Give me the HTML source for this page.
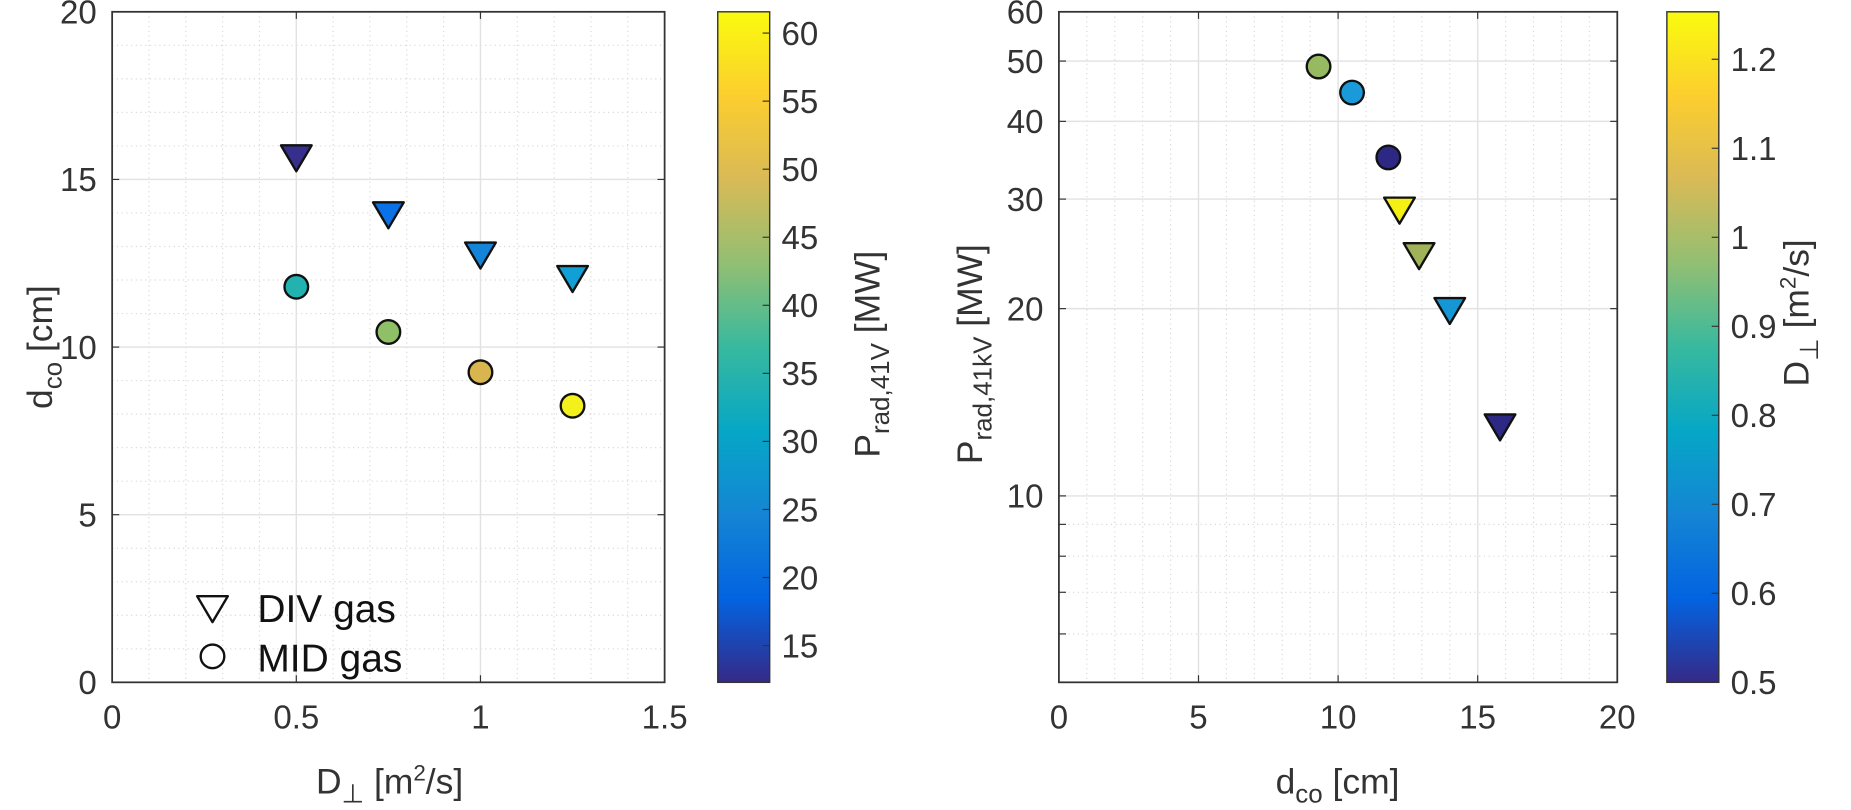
<!DOCTYPE html>
<html><head><meta charset="utf-8"><style>
html,body{margin:0;padding:0;background:#fff;}
svg{display:block;font-family:"Liberation Sans",Arial,sans-serif;}
</style></head><body>
<svg id="s" width="1851" height="810" viewBox="0 0 1851 810" xmlns="http://www.w3.org/2000/svg">
<defs>
<linearGradient id="par" x1="0" y1="1" x2="0" y2="0">
<stop offset="0" stop-color="#352a87"/><stop offset="0.125" stop-color="#0363e1"/>
<stop offset="0.25" stop-color="#1485d4"/><stop offset="0.375" stop-color="#06a7c6"/>
<stop offset="0.5" stop-color="#38b99e"/><stop offset="0.625" stop-color="#92bf73"/>
<stop offset="0.75" stop-color="#d9ba56"/><stop offset="0.875" stop-color="#fcce2e"/>
<stop offset="1" stop-color="#f9fb0e"/></linearGradient>
</defs>
<g transform="scale(1.1805)">
<g id="g"></g>
<text x="44" y="294" font-size="30" fill="#333" text-anchor="middle" transform="rotate(-90 44 294)">d<tspan font-size="22" dy="8">co</tspan><tspan dy="-8"> [cm]</tspan></text>
<text x="330" y="672" font-size="30" fill="#333" text-anchor="middle">D<tspan font-size="22" dy="8">⊥</tspan><tspan dy="-8"> [m</tspan><tspan font-size="19" dy="-11">2</tspan><tspan dy="11">/s]</tspan></text>
<text x="745" y="300" font-size="30" fill="#333" text-anchor="middle" transform="rotate(-90 745 300)">P<tspan font-size="22" dy="8">rad,41V</tspan><tspan dy="-8"> [MW]</tspan></text>
<text x="832" y="300" font-size="30" fill="#333" text-anchor="middle" transform="rotate(-90 832 300)">P<tspan font-size="22" dy="8">rad,41kV</tspan><tspan dy="-8"> [MW]</tspan></text>
<text x="1133" y="672" font-size="30" fill="#333" text-anchor="middle">d<tspan font-size="22" dy="8">co</tspan><tspan dy="-8"> [cm]</tspan></text>
<text x="1532" y="265" font-size="30" fill="#333" text-anchor="middle" transform="rotate(-90 1532 265)">D<tspan font-size="22" dy="8">⊥</tspan><tspan dy="-8"> [m</tspan><tspan font-size="19" dy="-11">2</tspan><tspan dy="11">/s]</tspan></text>
<text x="218" y="527" font-size="33" fill="#111">DIV gas</text>
<text x="218" y="569" font-size="33" fill="#111">MID gas</text>
</g>
</svg>
<script>
const g=document.getElementById('g');let h='';
const T=(x,y,t,a)=>h+=`<text x="${x}" y="${y}" font-size="28" fill="#333" text-anchor="${a}">${t}</text>`;
const L=(x1,y1,x2,y2,st)=>h+=`<line x1="${x1}" y1="${y1}" x2="${x2}" y2="${y2}" ${st}/>`;
const minor='stroke="#d8d8d8" stroke-width="1" stroke-dasharray="1,3"';
const major='stroke="#e2e2e2" stroke-width="1.2"';
const lx=v=>95+v*312, ly=v=>578-v*28.4;
for(let v=0.1;v<1.5;v+=0.1)L(lx(v),10,lx(v),578,minor);
for(let v=1;v<20;v++)L(95,ly(v),563,ly(v),minor);
[0.5,1].forEach(v=>L(lx(v),10,lx(v),578,major));
[5,10,15].forEach(v=>L(95,ly(v),563,ly(v),major));
h+=`<rect x="95" y="10" width="468" height="568" fill="none" stroke="#333" stroke-width="1.5"/>`;
[0,0.5,1,1.5].forEach(v=>{T(lx(v),617,v,'middle');L(lx(v),578,lx(v),572,'stroke="#333"');L(lx(v),10,lx(v),16,'stroke="#333"');});
[0,5,10,15,20].forEach(v=>{T(82,ly(v)+10,v,'end');L(95,ly(v),101,ly(v),'stroke="#333"');L(563,ly(v),557,ly(v),'stroke="#333"');});
h+=`<rect x="608" y="10" width="44" height="568" fill="url(#par)" stroke="#333" stroke-width="1.2"/>`;
const cy1=v=>578-(v-12.3)*11.53;
for(let v=15;v<=60;v+=5){T(662,cy1(v)+10,v,'start');L(652,cy1(v),646,cy1(v),'stroke="#333"');}
const rx=v=>897+v*23.65, ry=v=>10+527*Math.log10(60/v);
for(let v=1;v<20;v++)L(rx(v),10,rx(v),578,minor);
[6,7,8,9,20,30,40,50].forEach(v=>L(897,ry(v),1370,ry(v),minor));
[5,10,15].forEach(v=>L(rx(v),10,rx(v),578,major));
[10,20,30,40,50].forEach(v=>L(897,ry(v),1370,ry(v),major));
h+=`<rect x="897" y="10" width="473" height="568" fill="none" stroke="#333" stroke-width="1.5"/>`;
[0,5,10,15,20].forEach(v=>{T(rx(v),617,v,'middle');L(rx(v),578,rx(v),572,'stroke="#333"');L(rx(v),10,rx(v),16,'stroke="#333"');});
[10,20,30,40,50,60].forEach(v=>{T(884,ry(v)+10,v,'end');});
[6,7,8,9,10,20,30,40,50].forEach(v=>{L(897,ry(v),903,ry(v),'stroke="#333"');L(1370,ry(v),1364,ry(v),'stroke="#333"');});
h+=`<rect x="1412" y="10" width="44" height="568" fill="url(#par)" stroke="#333" stroke-width="1.2"/>`;
const cy2=v=>578-(v-0.5)*754;
[0.5,0.6,0.7,0.8,0.9,1,1.1,1.2].forEach(v=>{T(1466,cy2(v)+10,v,'start');L(1456,cy2(v),1450,cy2(v),'stroke="#333"');});
const C=(x,y,c)=>h+=`<circle cx="${x}" cy="${y}" r="10" fill="${c}" stroke="#111" stroke-width="2"/>`;
const V=(x,y,c)=>h+=`<polygon points="${x-13},${y-9} ${x+13},${y-9} ${x},${y+13}" fill="${c}" stroke="#111" stroke-width="2" stroke-linejoin="round"/>`;
V(lx(.5),ly(15.7),'#36308c');V(lx(.75),ly(14),'#0a72e6');V(lx(1),ly(12.8),'#1484d8');V(lx(1.25),ly(12.1),'#10a0d6');
C(lx(.5),ly(11.8),'#22b3b0');C(lx(.75),ly(10.45),'#8fbf66');C(lx(1),ly(9.25),'#d9b54f');C(lx(1.25),ly(8.25),'#f3f01c');
C(rx(9.3),ry(49),'#96b962');C(rx(10.5),ry(44.5),'#1a9ad8');C(rx(11.8),ry(35),'#2d2883');
V(rx(12.2),ry(29),'#f4f014');V(rx(12.9),ry(24.5),'#a0b358');V(rx(14),ry(20),'#1597d6');V(rx(15.8),ry(13),'#2d2883');
V(180,514,'#fff');C(180,556,'#fff');
g.innerHTML=h;
</script>
</body></html>
